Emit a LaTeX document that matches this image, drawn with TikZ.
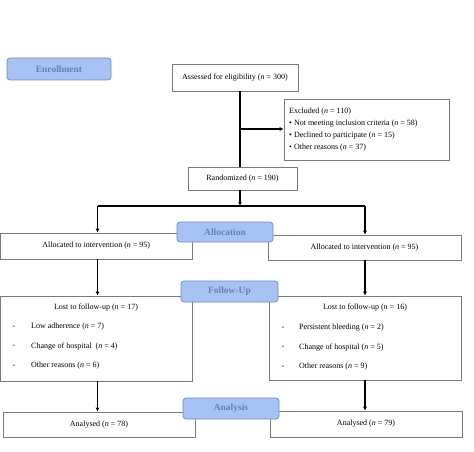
\documentclass[tikz,border=0pt]{standalone}
\usepackage{fontspec}
\setmainfont{Liberation Serif}
\usetikzlibrary{arrows.meta}
\definecolor{lblfill}{HTML}{A8C3F3}
\definecolor{lbldraw}{HTML}{6E8CC4}
\definecolor{lbltext}{HTML}{6482BA}
\definecolor{boxdraw}{HTML}{7A7A7A}
\begin{document}
\begin{tikzpicture}[x=1pt,y=-1pt,
  box/.style={draw=boxdraw, line width=0.6pt, fill=white, inner sep=0pt, font=\fontsize{8}{9}\selectfont},
  lbl/.style={draw=lbldraw, line width=0.7pt, fill=lblfill, rounded corners=3pt, inner sep=0pt,
    text=lbltext, font=\fontsize{9.5}{10}\selectfont\bfseries},
  txt/.style={inner sep=0pt, font=\fontsize{8}{9}\selectfont},
  link/.style={line width=1.1pt},
  arr/.style={line width=1.1pt, -{Latex[length=4pt,width=4pt]}}]
\useasboundingbox (0,0) rectangle (474,452);
% boxes
\node[box, minimum width=126pt, minimum height=27pt] (assessed) at (235,77.5) {Assessed for eligibility (\textit{n} = 300)};
\node[box, minimum width=165pt, minimum height=61pt] (excluded) at (366.5,129.5) {};
\node[txt, anchor=west] (ex1) at (289,112) {Excluded (\textit{n} = 110)};
\node[txt, anchor=west] (ex2) at (289,124) {• Not meeting inclusion criteria (\textit{n} = 58)};
\node[txt, anchor=west] (ex3) at (289,136) {• Declined to participate (\textit{n} = 15)};
\node[txt, anchor=west] (ex4) at (289,148) {• Other reasons (\textit{n} = 37)};
\node[box, minimum width=109pt, minimum height=23pt] (random) at (242.5,178.5) {Randomized (\textit{n} = 190)};
\node[box, minimum width=191.5pt, minimum height=26pt] (allocL) at (96.25,246) {Allocated to intervention (\textit{n} = 95)};
\node[box, minimum width=193pt, minimum height=25pt] (allocR) at (364.5,247.5) {Allocated to intervention (\textit{n} = 95)};
\node[box, minimum width=191.5pt, minimum height=85pt] (fuL) at (96.25,338.5) {};
\node[box, minimum width=192pt, minimum height=84pt] (fuR) at (365,338) {};
\node[box, minimum width=192pt, minimum height=25pt] (anL) at (99,424.5) {Analysed (\textit{n} = 78)};
\node[box, minimum width=192pt, minimum height=26pt] (anR) at (366,424) {Analysed (\textit{n} = 79)};
% follow-up texts
\node[txt] (fuLh) at (96,308) {Lost to follow-up (\textit{n} = 17)};
\node[txt] (fuLd1) at (14,327) {-};
\node[txt] (fuLd2) at (14,346.5) {-};
\node[txt] (fuLd3) at (14,366) {-};
\node[txt, anchor=west] (fuL1) at (31,327) {Low adherence (\textit{n} = 7)};
\node[txt, anchor=west] (fuL2) at (31,346.5) {Change of hospital\ \ (\textit{n} = 4)};
\node[txt, anchor=west] (fuL3) at (31,366) {Other reasons (\textit{n} = 6)};
\node[txt] (fuRh) at (365,308) {Lost to follow-up (\textit{n} = 16)};
\node[txt] (fuRd1) at (283,328) {-};
\node[txt] (fuRd2) at (283,347.5) {-};
\node[txt] (fuRd3) at (283,367) {-};
\node[txt, anchor=west] (fuR1) at (299,328) {Persistent bleeding (\textit{n} = 2)};
\node[txt, anchor=west] (fuR2) at (299,347.5) {Change of hospital (\textit{n} = 5)};
\node[txt, anchor=west] (fuR3) at (299,367) {Other reasons (\textit{n} = 9)};
% stage labels
\node[lbl, minimum width=104pt, minimum height=22pt] (enroll) at (59,69) {Enrollment};
\node[lbl, minimum width=96pt, minimum height=20pt] (alloc) at (225,232) {Allocation};
\node[lbl, minimum width=97pt, minimum height=21pt] (follow) at (229.5,291.5) {Follow-Up};
\node[lbl, minimum width=96pt, minimum height=21pt] (analysis) at (231,408.5) {Analysis};
% connectors
\coordinate (tx) at (240,0);
\coordinate (br) at (240,129);
\coordinate (split) at (240,206);
\coordinate (lx) at (97.5,0);
\coordinate (rx) at (365,0);
\draw[link] (assessed.south -| tx) -- (random.north -| tx);
\draw[arr] (br) -- (br -| excluded.west);
\draw[arr] (random.south -| tx) -- (split);
\draw[link] (lx |- split) -- (rx |- split);
\draw[arr] (lx |- split) -- (lx |- allocL.north);
\draw[arr] (rx |- split) -- (rx |- allocR.north);
\draw[arr] (lx |- allocL.south) -- (lx |- fuL.north);
\draw[arr] (rx |- allocR.south) -- (rx |- fuR.north);
\draw[arr] (lx |- fuL.south) -- (lx |- anL.north);
\draw[arr] (rx |- fuR.south) -- (rx |- anR.north);
\end{tikzpicture}
\end{document}
